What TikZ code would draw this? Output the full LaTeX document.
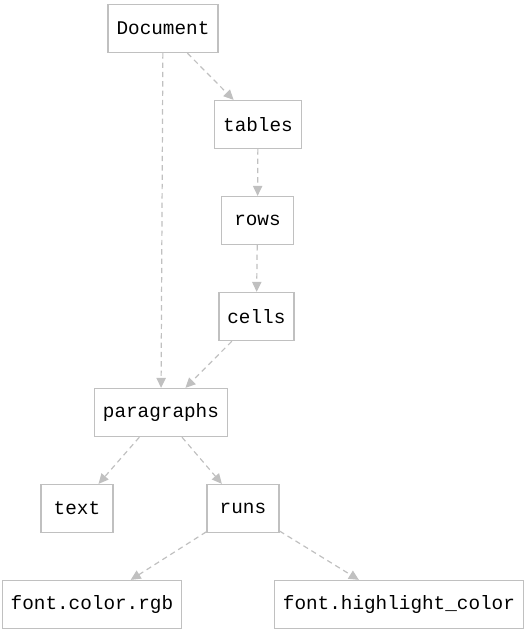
\documentclass[tikz,border=0pt]{standalone}
\usepackage{fontspec}
\setmonofont{Liberation Mono}
\usepackage{xcolor}
\usetikzlibrary{positioning, arrows.meta}
\definecolor{edgegray}{RGB}{192,192,192}

\begin{document}
\begin{tikzpicture}[
						node distance=35pt,
						attrblock/.style={rectangle, draw=edgegray, line width=1pt, fill=white, minimum width=54pt, minimum height=36pt, inner xsep=6.4pt, align=center, font=\ttfamily\fontsize{14.5pt}{17pt}\selectfont},
						line/.style={draw, -{Triangle[length=7.5pt, width=7pt]}, line width=0.9pt, color=edgegray, dash pattern=on 4pt off 3pt}
						]
						
						\useasboundingbox (0,0) rectangle (396pt,-475.5pt);
						
						\node [attrblock] (doc) at (122.25pt,-21.4pt) {Document};
						\node [attrblock, below=of doc, xshift=71.25pt] (tables) {tables};
						\node [attrblock, below=of tables, xshift=-0.4pt] (rows) {rows};
						\node [attrblock, below=of rows, xshift=-0.8pt] (cells) {cells};
						\node [attrblock, below=of cells, xshift=-71.6pt] (paras) {paragraphs};
						
						\node [attrblock, below=of paras, xshift=-63pt] (text) {text};
						\node [attrblock, below=of paras, xshift=61.5pt] (runs) {runs};
						
						\node [attrblock, below=of runs, xshift=-113.25pt] (rgb) {font.color.rgb};
						\node [attrblock, below=of runs, xshift=117pt] (hilite) {font.highlight\_color};
						
						\draw [line] (doc) -- (tables);
						\draw [line] (doc) -- (paras);
						\draw [line] (tables) -- (rows);
						\draw [line] (rows) -- (cells);
						\draw [line] (cells) -- (paras);
						
						\draw [line] (paras) -- (text);
						\draw [line] (paras) -- (runs);
						\draw [line] (runs) -- (rgb);
						\draw [line] (runs) -- (hilite);
					\end{tikzpicture}
\end{document}
